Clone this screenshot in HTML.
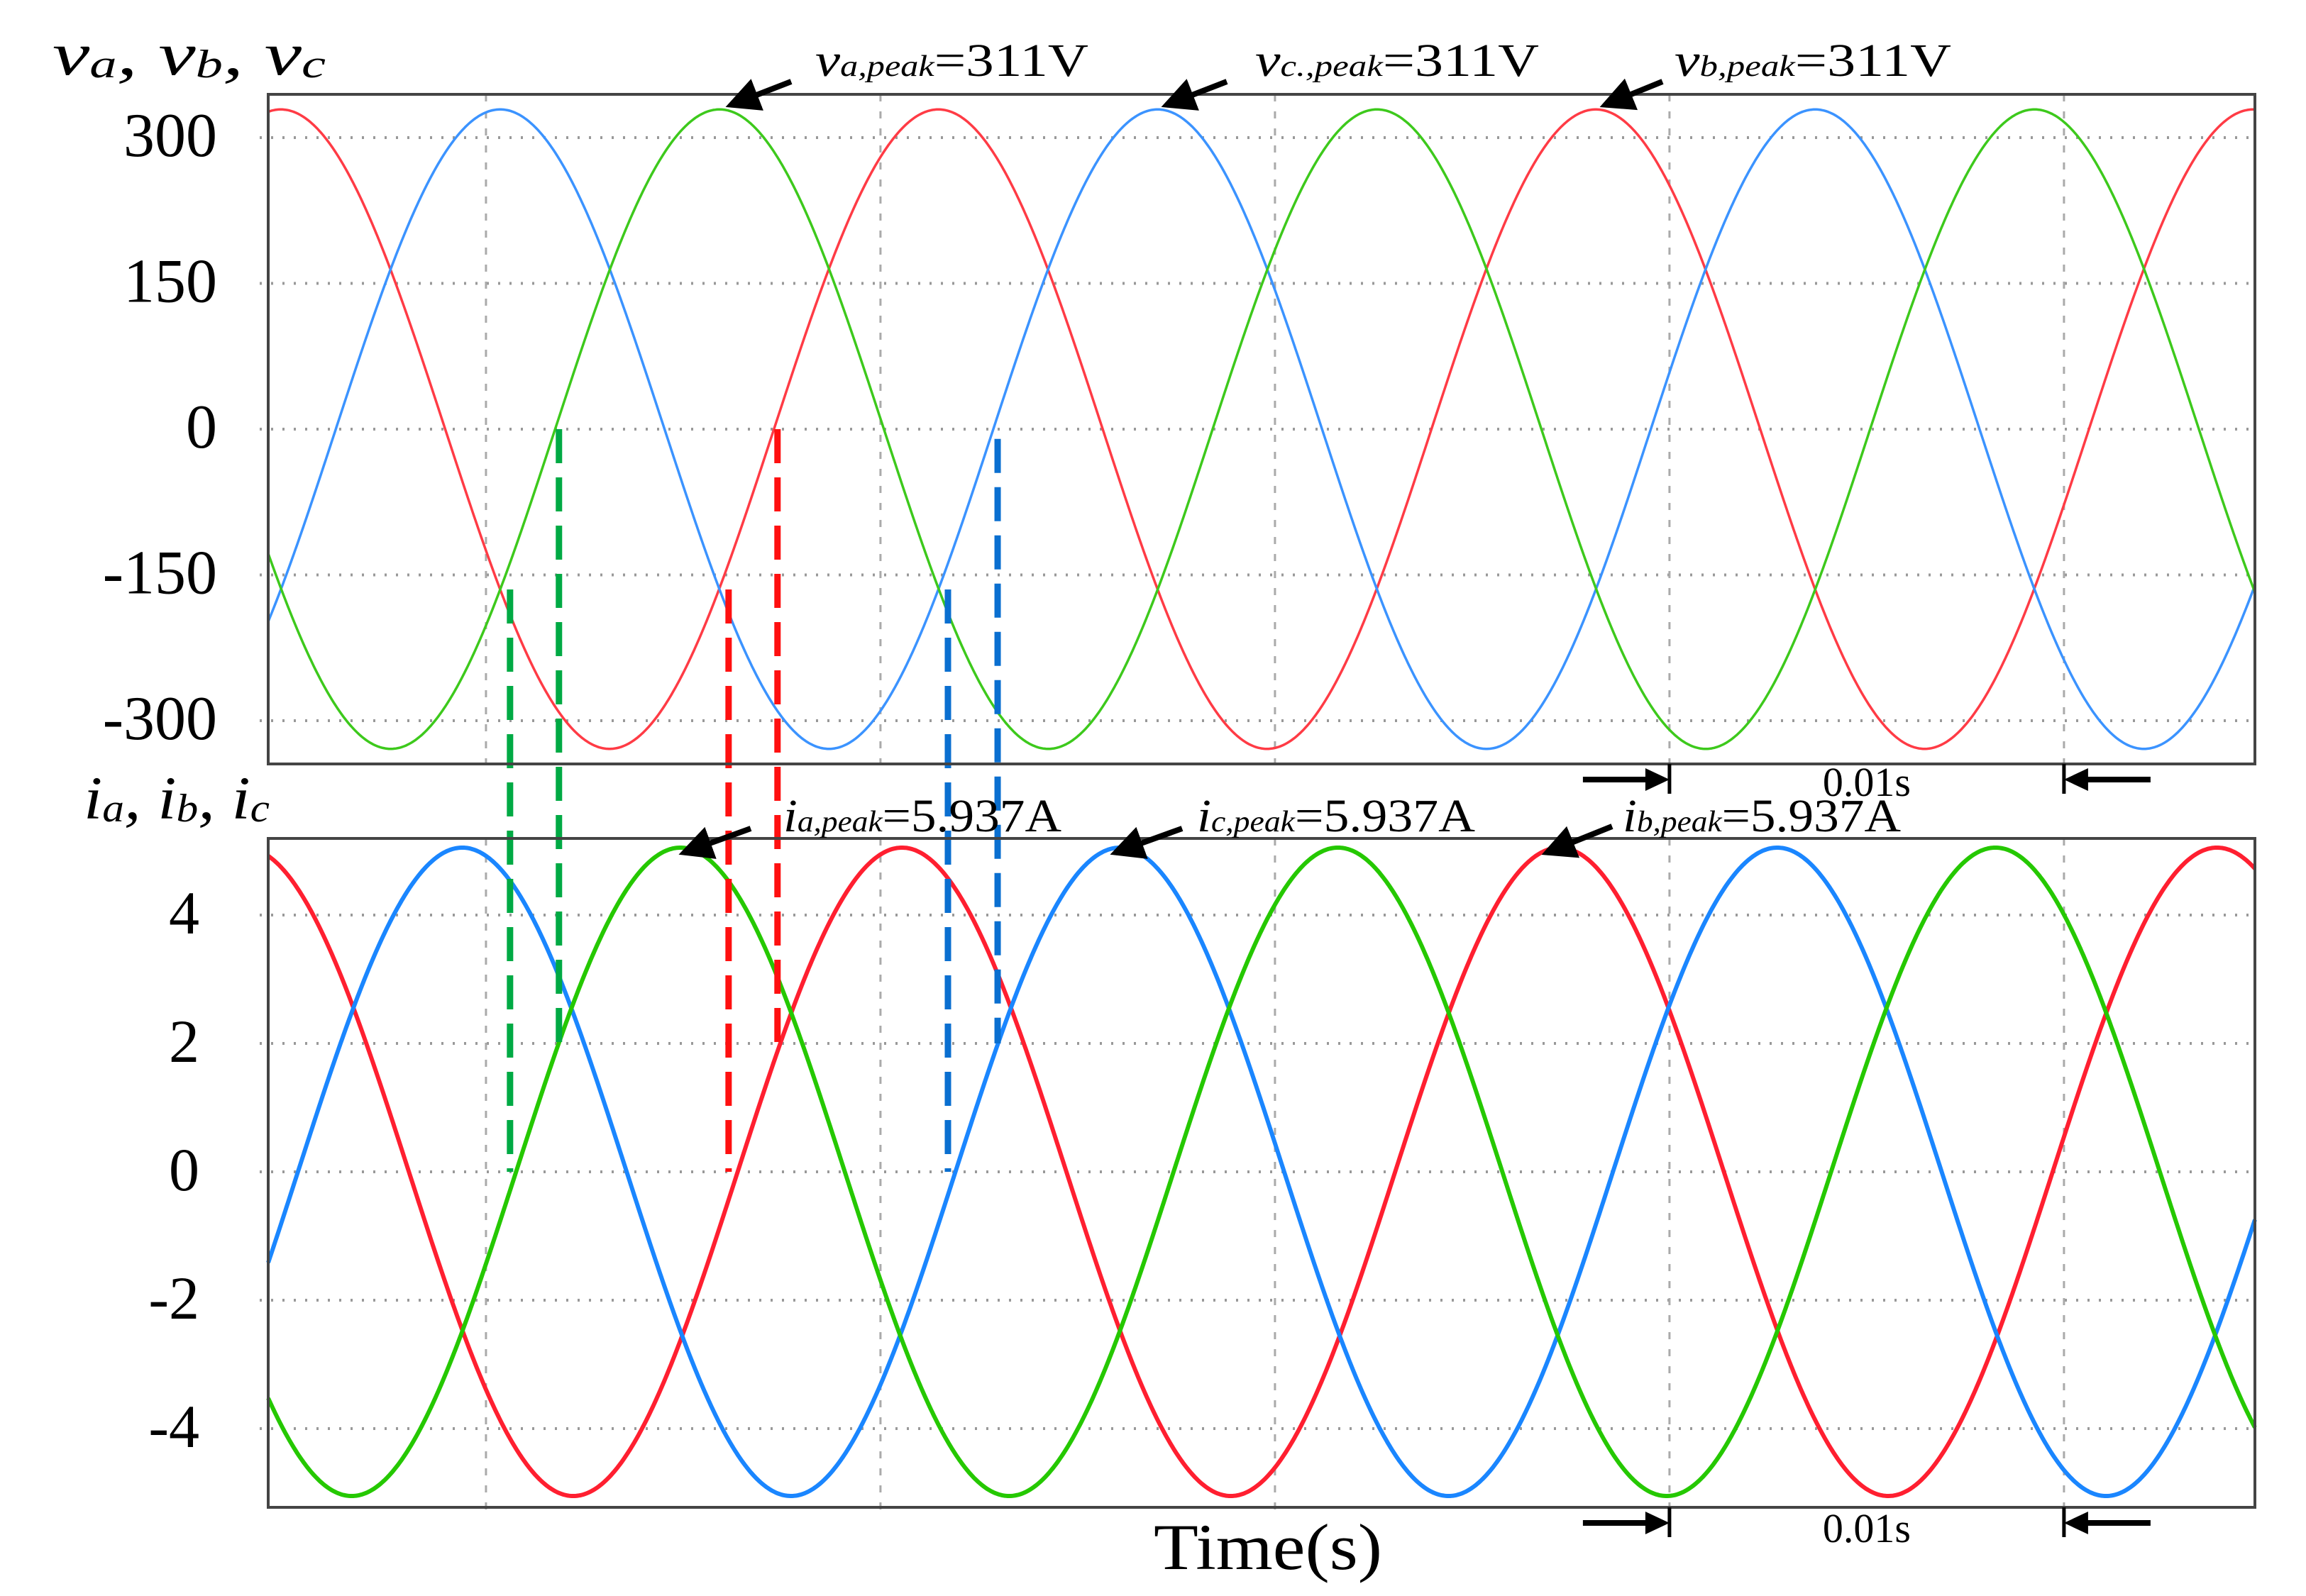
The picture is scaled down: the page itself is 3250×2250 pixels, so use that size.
<!DOCTYPE html>
<html><head><meta charset="utf-8"><style>
html,body{margin:0;padding:0;background:#fff;}
svg{display:block;}
text{font-family:"Liberation Serif",serif;fill:#000;}
</style></head><body>
<svg id="chart" width="3250" height="2250" viewBox="0 0 3250 2250" xmlns="http://www.w3.org/2000/svg">
<defs>
<marker id="ah" markerWidth="6" markerHeight="6" refX="5" refY="3" orient="auto" markerUnits="strokeWidth"><path d="M0,0 L6,3 L0,6 z" fill="#000"/></marker>
</defs>
<g id="grid"></g>
<g id="series"></g>
<g id="dashes"></g>
<g id="frames"></g>
<g id="labels">
<text x="74" y="105" font-size="86" font-style="italic" textLength="385" lengthAdjust="spacingAndGlyphs">v<tspan font-size="56" dy="4">a</tspan><tspan font-size="86" dy="-4">, v</tspan><tspan font-size="56" dy="4">b</tspan><tspan font-size="86" dy="-4">, v</tspan><tspan font-size="56" dy="4">c</tspan></text>
<text x="118" y="1154" font-size="86" font-style="italic" textLength="262" lengthAdjust="spacingAndGlyphs">i<tspan font-size="56" dy="4">a</tspan><tspan font-size="86" dy="-4">, i</tspan><tspan font-size="56" dy="4">b</tspan><tspan font-size="86" dy="-4">, i</tspan><tspan font-size="56" dy="4">c</tspan></text>
<text x="1149" y="107" font-size="66" textLength="385" lengthAdjust="spacingAndGlyphs"><tspan font-style="italic">v</tspan><tspan font-style="italic" font-size="42">a,peak</tspan>=311V</text>
<text x="1769" y="107" font-size="66" textLength="400" lengthAdjust="spacingAndGlyphs"><tspan font-style="italic">v</tspan><tspan font-style="italic" font-size="42">c.,peak</tspan>=311V</text>
<text x="2360" y="107" font-size="66" textLength="390" lengthAdjust="spacingAndGlyphs"><tspan font-style="italic">v</tspan><tspan font-style="italic" font-size="42">b,peak</tspan>=311V</text>
<text x="1104" y="1172" font-size="66" textLength="392" lengthAdjust="spacingAndGlyphs"><tspan font-style="italic">i</tspan><tspan font-style="italic" font-size="42">a,peak</tspan>=5.937A</text>
<text x="1687" y="1172" font-size="66" textLength="392" lengthAdjust="spacingAndGlyphs"><tspan font-style="italic">i</tspan><tspan font-style="italic" font-size="42">c,peak</tspan>=5.937A</text>
<text x="2287" y="1172" font-size="66" textLength="392" lengthAdjust="spacingAndGlyphs"><tspan font-style="italic">i</tspan><tspan font-style="italic" font-size="42">b,peak</tspan>=5.937A</text>
<text x="1787" y="2212" font-size="92" text-anchor="middle" textLength="322" lengthAdjust="spacingAndGlyphs">Time(s)</text>
</g>
<g id="arrows" stroke="#000" stroke-width="8" fill="none">
<line x1="1115" y1="115" x2="1030" y2="148" marker-end="url(#ah)"/>
<line x1="1729" y1="115" x2="1644" y2="148" marker-end="url(#ah)"/>
<line x1="2343" y1="115" x2="2262" y2="148" marker-end="url(#ah)"/>
<line x1="1058" y1="1168" x2="964" y2="1202" marker-end="url(#ah)"/>
<line x1="1666" y1="1168" x2="1572" y2="1202" marker-end="url(#ah)"/>
<line x1="2272" y1="1165" x2="2180" y2="1202" marker-end="url(#ah)"/>
</g>
<g id="markers"></g>
</svg>
<script>
// ---- data ----
const vTicks = [300, 150, 0, -150, -300];
const iTicks = [4, 2, 0, -2, -4];
const timeGridMs = [5.52, 15.52, 25.52, 35.52, 45.52];
const phaseNames = ['a', 'b', 'c'];
const phaseColorsV = ['#ff3b45', '#3b93ff', '#3dc91c'];
const phaseColorsI = ['#ff1f30', '#1a86ff', '#25c800'];
const freqHz = 60;
const vAmplitude = [329, 329, 329];
const vPeakTimeMs = [0.32, 5.88, 11.44];
const iAmplitude = [5.05, 5.05, 5.05];
const iPeakTimeMs = [-0.6, 4.92, 10.45];
const dashTimesMs = [6.13, 7.37, 11.67, 12.91, 17.23, 18.49];
const dashColors = ['#00aa44', '#00aa44', '#ff1010', '#ff1010', '#0a6fd0', '#0a6fd0'];
const dashTopV = [-165, 0, -165, 0, -165, -10];
const dashBottomI = [0, 2, 0, 2, 0, 2];
const scaleStartMs = 35.52, scaleEndMs = 45.52, scaleLabel = '0.01s';
const tEndMs = 50.36;

// ---- axes ----
const X0 = 378, X1 = 3178;
const xT = t => X0 + (t / tEndMs) * (X1 - X0);
const TOP = {y0: 133, y1: 1077}, BOT = {y0: 1182, y1: 2125};
const yV = v => 605 - v * (205.5 / 150);
const yI = i => 1652 - i * (181 / 2);
const NS = 'http://www.w3.org/2000/svg';
function mk(tag, parent, attrs) {
  const e = document.createElementNS(NS, tag);
  for (const k in attrs) e.setAttribute(k, attrs[k]);
  parent.appendChild(e);
  return e;
}
const grid = document.getElementById('grid');
const series = document.getElementById('series');
const dashes = document.getElementById('dashes');
const frames = document.getElementById('frames');
const labels = document.getElementById('labels');
const markers = document.getElementById('markers');

// grid
vTicks.forEach(v => {
  const l = mk('line', grid, {x1: X0 - 12, x2: X1, y1: yV(v), y2: yV(v), stroke: '#999', 'stroke-width': 4, 'stroke-dasharray': '3 13'});
  
  
  const t = mk('text', labels, {x: 306, y: yV(v) + 26, 'font-size': 88, 'text-anchor': 'end'});
  t.textContent = v;
  
  
});
iTicks.forEach(i => {
  const l = mk('line', grid, {x1: X0 - 12, x2: X1, y1: yI(i), y2: yI(i), stroke: '#999', 'stroke-width': 4, 'stroke-dasharray': '3 13'});
  
  
  const t = mk('text', labels, {x: 281, y: yI(i) + 26, 'font-size': 86, 'text-anchor': 'end'});
  t.textContent = i;
  
  
});
timeGridMs.forEach(t => {
  [TOP, BOT].forEach(p => {
    const l = mk('line', grid, {x1: xT(t), x2: xT(t), y1: p.y0, y2: p.y1 + 12, stroke: '#aaa', 'stroke-width': 3, 'stroke-dasharray': '10 14'});
    
    
  });
});

// series
function wave(amp, peak, yf) {
  let d = '';
  const T = 1000 / freqHz;
  for (let k = 0; k <= 1400; k++) {
    const t = tEndMs * k / 1400;
    const val = amp * Math.cos(2 * Math.PI * (t - peak) / T);
    d += (k ? 'L' : 'M') + xT(t).toFixed(1) + ',' + yf(val).toFixed(1);
  }
  return d;
}
phaseNames.forEach((p, k) => {
  const pv = mk('path', series, {d: wave(vAmplitude[k], vPeakTimeMs[k], yV), stroke: phaseColorsV[k], 'stroke-width': 3.5, fill: 'none'});
  
  
  const pi = mk('path', series, {d: wave(iAmplitude[k], iPeakTimeMs[k], yI), stroke: phaseColorsI[k], 'stroke-width': 6, fill: 'none'});
  
  
});

// dashed guides
dashTimesMs.forEach((t, k) => {
  const l = mk('line', dashes, {x1: xT(t), x2: xT(t), y1: yV(dashTopV[k]), y2: yI(dashBottomI[k]), stroke: dashColors[k], 'stroke-width': 9, 'stroke-dasharray': '48 20'});
  
  
});

// frames
[TOP, BOT].forEach((p, k) => {
  const r = mk('rect', frames, {x: X0, y: p.y0, width: X1 - X0, height: p.y1 - p.y0, fill: 'none', stroke: '#444', 'stroke-width': 4});
  
  
});

// 0.01s scale markers
[{y: TOP.y1, ty: 1122}, {y: BOT.y1, ty: 2174}].forEach((m, k) => {
  const xa = xT(scaleStartMs), xb = xT(scaleEndMs), ym = m.y + 22;
  const g = mk('g', markers, {});
  
  
  mk('line', g, {x1: xa, x2: xa, y1: m.y, y2: m.y + 42, stroke: '#000', 'stroke-width': 5});
  mk('line', g, {x1: xb, x2: xb, y1: m.y, y2: m.y + 42, stroke: '#000', 'stroke-width': 5});
  mk('line', g, {x1: xa - 122, x2: xa - 30, y1: ym, y2: ym, stroke: '#000', 'stroke-width': 8});
  mk('path', g, {d: `M${xa},${ym} L${xa - 34},${ym - 16} L${xa - 34},${ym + 16}z`, fill: '#000'});
  mk('line', g, {x1: xb + 30, x2: xb + 122, y1: ym, y2: ym, stroke: '#000', 'stroke-width': 8});
  mk('path', g, {d: `M${xb},${ym} L${xb + 34},${ym - 16} L${xb + 34},${ym + 16}z`, fill: '#000'});
  const t = mk('text', g, {x: (xa + xb) / 2, y: m.ty, 'font-size': 58, 'text-anchor': 'middle'});
  t.textContent = scaleLabel;
});
</script>
</body></html>
